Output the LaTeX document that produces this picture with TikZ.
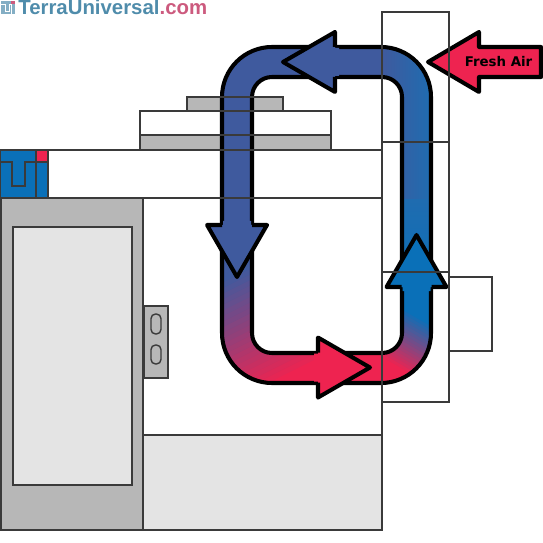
\documentclass[tikz,border=0pt]{standalone}
\usepackage{fontspec}
\setmainfont{Liberation Sans}
\newfontfamily\heavyfont{DejaVu Sans}
\definecolor{airblue}{HTML}{0A70B8}
\definecolor{airtop}{HTML}{1F6CB0}
\definecolor{airmid}{HTML}{3F5A9E}
\definecolor{airred}{HTML}{EE2350}
\definecolor{wallgray}{HTML}{B7B7B7}
\definecolor{wallpale}{HTML}{E4E4E4}
\definecolor{wallline}{HTML}{3A3A3A}
\definecolor{logoteal}{HTML}{4F8CAB}
\definecolor{logopink}{HTML}{CC5A7E}
\tikzset{wall/.style={draw=wallline,line width=0.8pt},
  duct/.style={draw=black,line width=2.3pt,line join=round}}
\newcommand{\airhead}[3]{\begin{scope}[shift={(#1)},rotate=#2]
  \fill[#3] (0,0)--(52,-30)--(52,-14)--(56,-14)--(56,14)--(52,14)--(52,30)--cycle;
  \draw[duct] (52,-15)--(52,-30)--(0,0)--(52,30)--(52,15);\end{scope}}
\begin{document}
\begin{tikzpicture}[x=0.02cm,y=-0.02cm]
\useasboundingbox (0,0) rectangle (543,543);
% logo
\node[anchor=west,inner sep=0pt,font=\bfseries\fontsize{11.6}{12}\selectfont,text=logoteal] (logotext) at (18,7) {TerraUniversal\textcolor{logopink}{.com}};
\fill[logoteal!70] (1,1) rectangle (15,14);
\draw[white,line width=0.4pt] (1,4)--(5,4)--(5,11)--(9,11)--(9,4)--(11,4) (11,1)--(11,14);
\fill[logopink] (11,1) rectangle (15,4);
% fills
\fill[wallgray] (187,97) rectangle (283,111);
\fill[wallgray] (140,135) rectangle (331,150);
\fill[airblue] (1,151) rectangle (48,197);
\fill[airred] (37,151) rectangle (48,162);
\fill[wallgray] (0,198) rectangle (143,530);
\fill[wallpale] (13,227) rectangle (132,485);
\fill[wallpale] (143,435) rectangle (382,530);
\fill[wallgray] (144,306) rectangle (168,378);
% duct
\begin{scope}[even odd rule]
\clip [rounded corners=1cm] (222,47) rectangle (431,383)
  [rounded corners=0.4cm] (252,77) rectangle (402,353);
\fill[airmid] (215,200) rectangle (260,290);
\begin{scope}
\clip (200,200) rectangle (383,400);
\foreach \t in {0,5,...,115}{
  \pgfmathtruncatemacro{\p}{\t/1.15}
  \fill[airred!\p!airmid,shift={(237,270)},rotate=-63.4] (\t,-130) rectangle (170,130);}
\end{scope}
\fill[airred] (382,330) rectangle (440,390);
\begin{scope}
\clip (383,200) rectangle (440,400);
\foreach \t in {0,3,...,54}{
  \pgfmathtruncatemacro{\p}{\t/0.54}
  \fill[airblue!\p!airred,shift={(390,365)},rotate=60] (\t,-70) rectangle (170,70);}
\end{scope}
\fill[airmid] (215,40) rectangle (382.5,240);
\shade[left color=airmid,right color=airtop] (382,40) rectangle (431,240);
\shade[top color=airtop,bottom color=airblue] (383,200) rectangle (440,290);
\end{scope}
\draw[duct,rounded corners=1cm] (222,47) rectangle (431,383);
\draw[duct,rounded corners=0.4cm] (252,77) rectangle (402,353);
\airhead{283,62}{0}{airmid}
\airhead{237,277}{90}{airmid}
\airhead{370,367.5}{180}{airred}
\airhead{416.5,235}{270}{airblue}
% fresh air
\fill[airred] (428,62)--(479,32)--(479,47)--(541,47)--(541,77)--(479,77)--(479,92)--cycle;
\draw[duct] (428,62)--(479,32)--(479,47)--(541,47)--(541,77)--(479,77)--(479,92)--cycle;
% outlines
\draw[wall] (187,111)--(187,97)--(283,97)--(283,111);
\draw[wall] (140,111) rectangle (331,135);
\draw[wall] (140,135) rectangle (331,150);
\draw[wall] (0,150) rectangle (382,198);
\draw[wall] (1,162)--(12,162)--(12,186)--(25,186)--(25,162)--(36,162) (36,151)--(36,197) (37,162)--(48,162)--(48,151) (48,151)--(48,197);
\draw[wall] (1,198) rectangle (143,530);
\draw[wall] (13,227) rectangle (132,485);
\draw[wall] (143,435) rectangle (382,530);
\draw[wall] (144,306) rectangle (168,378);
\draw[wall,rounded corners=0.09cm] (151,314) rectangle (161,334);
\draw[wall,rounded corners=0.09cm] (151,345) rectangle (161,364);
\draw[wall] (382,12) rectangle (449,142);
\draw[wall] (382,142) rectangle (449,402);
\draw[wall] (382,272)--(449,272);
\draw[wall] (382,198)--(382,435);
\draw[wall] (449,277) rectangle (492,351);
\node[inner sep=0pt,font=\heavyfont\bfseries\fontsize{7.6}{8}\selectfont] (freshair) at (498.5,62) {Fresh Air};
\end{tikzpicture}
\end{document}
